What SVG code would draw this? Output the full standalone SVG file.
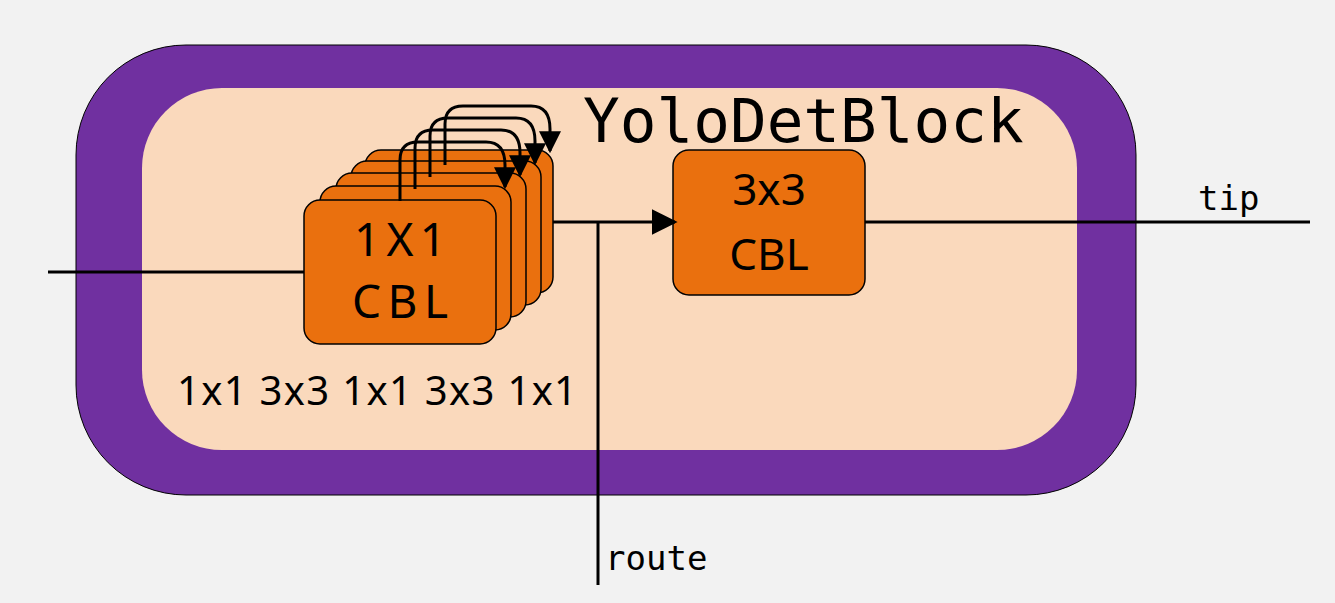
<svg xmlns="http://www.w3.org/2000/svg" width="1335" height="603" viewBox="0 0 1335 603">
<defs>
<style>
.box{fill:#EA700E;stroke:#000;stroke-width:1.5}
.lbl{font-family:"Noto Sans","Liberation Sans",sans-serif;fill:#000}
.mono{font-family:"DejaVu Sans Mono","Liberation Mono",monospace;fill:#000}
.ln{stroke:#000;stroke-width:3;fill:none}
</style>
<marker id="ah" viewBox="0 0 10 10" refX="9" refY="5" markerWidth="26" markerHeight="26" markerUnits="userSpaceOnUse" orient="auto"><path d="M0,0L10,5L0,10z" fill="#000"/></marker>
<marker id="ah2" viewBox="0 0 10 10" refX="9" refY="5" markerWidth="22" markerHeight="22" markerUnits="userSpaceOnUse" orient="auto"><path d="M0,0L10,5L0,10z" fill="#000"/></marker>
</defs>
<rect width="1335" height="603" fill="#f2f2f2"/>
<g id="container">
<rect x="76" y="45" width="1060" height="450" rx="110" fill="#7030A0" stroke="#000" stroke-width="1"/>
<rect x="142" y="88" width="935" height="362" rx="80" fill="#FAD9BC"/>
<text class="mono" x="583" y="142" font-size="61">YoloDetBlock</text>
</g>
<g id="stack">
<rect class="box" x="365" y="150" width="188" height="143" rx="16"/>
<rect class="box" x="351" y="161" width="190" height="144" rx="16"/>
<rect class="box" x="336" y="173" width="190" height="144" rx="16"/>
<rect class="box" x="320" y="186" width="191" height="144" rx="16"/>
<rect class="box" x="304" y="200" width="192" height="144" rx="16"/>
<text class="lbl" x="400" y="256" font-size="46" text-anchor="middle" textLength="92">1X1</text>
<text class="lbl" x="400" y="318" font-size="46" text-anchor="middle" textLength="96">CBL</text>
</g>
<g id="cbl33">
<rect class="box" x="673" y="150" width="192" height="145" rx="16"/>
<text class="lbl" x="769" y="205" font-size="44" text-anchor="middle">3x3</text>
<text class="lbl" x="769" y="270" font-size="44" text-anchor="middle">CBL</text>
</g>
<text class="lbl" x="177" y="405" font-size="40" textLength="400">1x1 3x3 1x1 3x3 1x1</text>
<g id="connectors">
<path class="ln" d="M48,272H304"/>
<path class="ln" d="M553,222H675" marker-end="url(#ah)"/>
<path class="ln" d="M598,222V585"/>
<path class="ln" d="M865,222H1310"/>
<path class="ln" d="M400,201V160Q400,142 418,142H486Q505,142 505,165V187" marker-end="url(#ah2)"/>
<path class="ln" d="M415,189V148Q415,130 433,130H501Q520,130 520,153V175" marker-end="url(#ah2)"/>
<path class="ln" d="M430,177V136Q430,118 448,118H516Q535,118 535,141V163" marker-end="url(#ah2)"/>
<path class="ln" d="M445,165V124Q445,106 463,106H531Q550,106 550,129V151" marker-end="url(#ah2)"/>
</g>
<text class="mono" x="1198" y="210" font-size="34">tip</text>
<text class="mono" x="605" y="570" font-size="34">route</text>
</svg>
